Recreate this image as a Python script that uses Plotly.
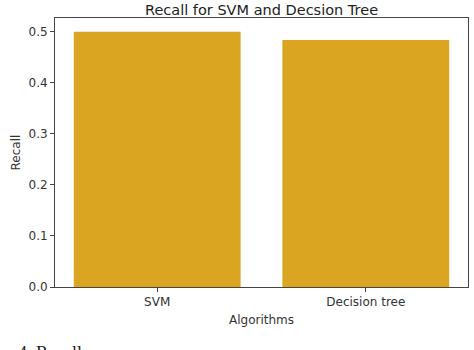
import plotly.graph_objects as go

algorithms = ["SVM", "Decision tree"]
recall = [0.5, 0.484]
y_ticks = [0.0, 0.1, 0.2, 0.3, 0.4, 0.5]

fig = go.Figure()
fig.add_trace(go.Bar(
    x=list(range(len(algorithms))), y=recall, width=0.8,
    marker=dict(color="#DAA520", line=dict(width=0)),
))

axis_common = dict(showline=True, mirror=True, linecolor="#444", linewidth=1,
                   ticks="outside", ticklen=4, tickcolor="#444", showgrid=False,
                   zeroline=False, tickfont=dict(family="DejaVu Sans", size=12, color="#333"))

fig.update_layout(
    width=474, height=350,
    margin=dict(l=55, r=6, t=18, b=63),
    plot_bgcolor="white", paper_bgcolor="white",
    showlegend=False,
    xaxis=dict(range=[-0.49, 1.49], tickvals=list(range(len(algorithms))),
               ticktext=algorithms, **axis_common),
    yaxis=dict(range=[0, 0.527], tickvals=y_ticks, tickformat=".1f", **axis_common),
    annotations=[
        dict(text="Recall for SVM and Decsion Tree", xref="paper", yref="paper",
             x=0.5, y=1, yshift=8, yanchor="middle", showarrow=False,
             font=dict(family="DejaVu Sans", size=14.5, color="#222")),
        dict(text="Recall", xref="paper", yref="paper", x=0, xshift=-40, y=0.5,
             textangle=-90, showarrow=False, xanchor="center", yanchor="middle",
             font=dict(family="DejaVu Sans", size=12, color="#333")),
        dict(text="Algorithms", xref="paper", yref="paper", x=0.5, y=0, yshift=-33,
             showarrow=False, yanchor="middle",
             font=dict(family="DejaVu Sans", size=12, color="#333")),
        dict(text="4. Recall", xref="paper", yref="paper", x=0, xshift=-39, y=0,
             yshift=-54, xanchor="left", yanchor="top", showarrow=False,
             font=dict(family="Liberation Serif", size=18, color="#222")),
    ],
)

fig.write_html("out.html")
